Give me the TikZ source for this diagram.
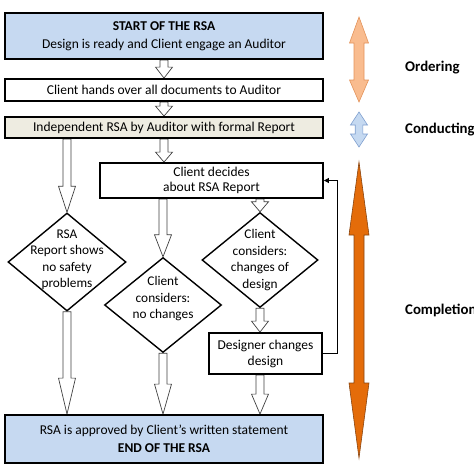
\documentclass[tikz,border=0pt]{standalone}
\usepackage{fontspec}
\setmainfont{Carlito}
\usetikzlibrary{calc,arrows.meta,shapes.geometric,backgrounds}
\definecolor{lblue}{HTML}{C6D9F1}
\definecolor{beige}{HTML}{EEECE1}
\definecolor{lorange}{HTML}{F9BC8F}
\definecolor{lorangeD}{HTML}{E3935A}
\definecolor{dorange}{HTML}{E46C0A}
\definecolor{dorangeD}{HTML}{8A4510}
\definecolor{ablue}{HTML}{C5D9F1}
\definecolor{ablueD}{HTML}{7F9FCF}
\tikzset{
  box/.style={draw=black, line width=1.8pt, rectangle, inner sep=0pt, align=center,
    font=\fontsize{13.5}{16}\selectfont},
  diam/.style={draw=black, line width=1.4pt, diamond, inner sep=0pt},
  dtext/.style={align=center, font=\fontsize{13.3}{16.5}\selectfont},
  barrow/.style={draw=black!75, line width=0.7pt, fill=white},
  phase/.style={font=\bfseries\fontsize{14.8}{16}\selectfont, anchor=west, inner sep=0pt},
  dbl/.style={line width=0.6pt},
}
% vertical hollow block arrow from point #2 (top) down to point #3 (tip); #1 = head length
\newcommand\blockarrow[3][11]{%
  \path[barrow] let \p1=#2, \p2=#3 in
    (\x2-4pt,\y1) -- (\x2-4pt,\y2+#1pt) -- (\x2-8.5pt,\y2+#1pt) -- (\x2,\y2)
    -- (\x2+8.5pt,\y2+#1pt) -- (\x2+4pt,\y2+#1pt) -- (\x2+4pt,\y1) -- cycle;}
% vertical double arrow: x, ytop, ybottom, head length top, head length bottom, head half width, shaft half width
\newcommand\dblarrow[8]{%
  \path[dbl,#8] (#1,#2) -- (#1+#6,#2+#4) -- (#1+#7,#2+#4) -- (#1+#7,#3-#5) -- (#1+#6,#3-#5)
    -- (#1,#3) -- (#1-#6,#3-#5) -- (#1-#7,#3-#5) -- (#1-#7,#2+#4) -- (#1-#6,#2+#4) -- cycle;}
\begin{document}
\begin{tikzpicture}[x=1pt,y=-1pt]
\useasboundingbox (0,0) rectangle (474,474);

% boxes
\node[box, fill=lblue, minimum width=318pt, minimum height=46pt, font=\fontsize{13.5}{18}\selectfont]
  (start) at (164,36) {\textbf{START OF THE RSA}\\Design is ready and Client engage an Auditor};
\node[box, fill=white, minimum width=318pt, minimum height=22pt] (hand) at (164,90)
  {Client hands over all documents to Auditor};
\node[box, fill=beige, minimum width=318pt, minimum height=21pt] (indep) at (164,127.5)
  {Independent RSA by Auditor with formal Report};
\node[box, fill=white, minimum width=223pt, minimum height=35pt, font=\fontsize{13.5}{15.5}\selectfont]
  (decide) at (211.5,180.5) {Client decides\\about RSA Report};

% diamonds
\node[diam, minimum width=118pt, minimum height=98pt,
  label={[dtext, yshift=2pt]center:RSA\\Report shows\\no safety\\problems}] (d1) at (67,262) {};
\node[diam, minimum width=117pt, minimum height=95pt,
  label={[dtext, yshift=6pt]center:Client\\considers:\\no changes}] (d2) at (163,305) {};
\node[diam, minimum width=116pt, minimum height=95pt,
  label={[dtext]center:Client\\considers:\\changes of\\design}] (d3) at (260,260) {};

\node[box, fill=white, minimum width=113pt, minimum height=41pt, font=\fontsize{13.5}{16}\selectfont]
  (designer) at (265.5,353.5) {Designer changes\\design};

\node[box, fill=lblue, minimum width=318pt, minimum height=48pt, font=\fontsize{13.5}{18}\selectfont]
  (end) at (164,439) {RSA is approved by Client's written statement\\\textbf{END OF THE RSA}};

% hollow arrows
\begin{pgfonlayer}{background}
\blockarrow{(start.south)}{(hand.north)}
\blockarrow[10]{(hand.south)}{(indep.north)}
\blockarrow[10]{(indep.south)}{(indep.south |- decide.north)}
\blockarrow[26]{(indep.south -| d1.north)}{(d1.north)}
\blockarrow[22]{(decide.south -| d2.north)}{(d2.north)}
\blockarrow[10]{(decide.south -| d3.north)}{(d3.north)}
\blockarrow[36]{(d1.south)}{(d1.south |- end.north)}
\blockarrow[30]{(d2.south)}{(d2.south |- end.north)}
\blockarrow[11]{(d3.south)}{(d3.south |- designer.north)}
\blockarrow[20]{(d3.south |- designer.south)}{(d3.south |- end.north)}
\end{pgfonlayer}

% feedback
\coordinate (fb) at (337,0);
\draw[line width=0.8pt, -{Triangle[length=5pt,width=5pt]}]
  (designer.east) -- (designer.east -| fb) -- (decide.east -| fb) -- (decide.east);

% phase arrows
\dblarrow{359}{17}{102}{26}{22}{9.5}{5}{fill=lorange, draw=lorangeD}
\dblarrow{359}{112}{147}{13}{13}{8.5}{3.8}{fill=ablue, draw=ablueD}
\dblarrow{359}{162}{458}{73}{75}{10}{5}{fill=dorange, draw=dorangeD}

\node[phase] (ord) at (405,68) {Ordering};
\node[phase] (con) at (405,130) {Conducting};
\node[phase] (com) at (405,310) {Completion};
\end{tikzpicture}
\end{document}
